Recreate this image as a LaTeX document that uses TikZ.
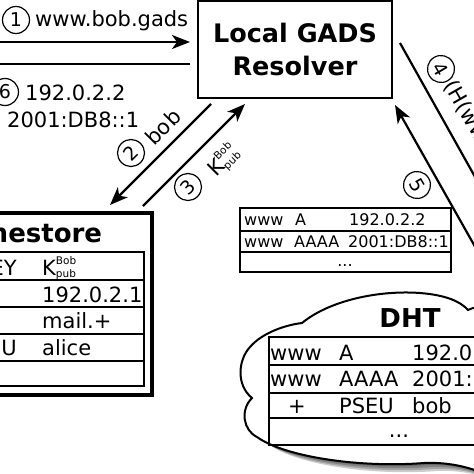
\documentclass[tikz,border=0pt]{standalone}
\usepackage{fontspec}
\setmainfont{DejaVu Sans}
\usetikzlibrary{arrows.meta}
\newcommand\kbobpub{K\rlap{\raisebox{11pt}{\fontsize{10.5}{11}\selectfont Bob}}\raisebox{-2.5pt}{\fontsize{10.5}{11}\selectfont pub}}
\def\dhtcloud{(302,323) .. controls (330,300) and (380,290) .. (420,293) .. controls (445,295) and (460,301) .. (468,310) .. controls (490,300) and (510,310) .. (520,330) -- (540,480) -- (480,472) .. controls (465,466) and (445,462) .. (424,463) .. controls (360,468) and (285,457) .. (257,437) .. controls (243,430) and (240,410) .. (252,398) .. controls (236,385) and (238,360) .. (250,347) .. controls (262,333) and (285,325) .. (302,323) -- cycle}
\begin{document}
\begin{tikzpicture}[x=1pt,y=-1pt,
  txt/.style={inner sep=0pt, font=\fontsize{21}{25}\selectfont},
  smalltxt/.style={inner sep=0pt, font=\fontsize{16}{19}\selectfont},
  titletxt/.style={inner sep=0pt, font=\bfseries\fontsize{26}{33}\selectfont},
  num/.style={circle, draw, line width=1.2pt, minimum size=27pt, inner sep=0pt, font=\fontsize{19}{21}\selectfont},
  arr/.style={line width=2.2pt, -{Stealth[length=18pt,width=14pt,inset=5pt]}},
  conn/.style={line width=2.2pt},
  tbl/.style={line width=1.3pt}]
\useasboundingbox (0,0) rectangle (474,474);
\clip (0,0) rectangle (474,474);

% Resolver
\node[draw, line width=2pt, minimum width=194pt, minimum height=97pt, align=center,
      font=\bfseries\fontsize{25.5}{33}\selectfont] (res) at (295,49.5) {Local GADS\\Resolver};

% arrow 1 and 6
\coordinate (in1) at (-20,42);
\coordinate (out6) at (-20,64);
\draw[arr] (in1) -- ([xshift=-7pt]res.west |- in1);
\draw[arr] ([xshift=-7pt]res.west |- out6) -- (out6);
\node[num] (c1) at (16,20) {1};
\node[txt, anchor=base west] (l1) at (35,26) {www.bob.gads};
\node[num] (c6) at (5,92) {6};
\node[txt, anchor=base west] (l6a) at (25,100) {192.0.2.2};
\node[txt, anchor=base west] (l6b) at (7,127) {2001:DB8::1};

% arrows 2 and 3
\coordinate (a2s) at (211,104);
\coordinate (a2e) at (110,205);
\coordinate (a3s) at (143,206);
\coordinate (a3e) at (245,104);
\draw[arr] (a2s) -- (a2e);
\draw[arr] (a3s) -- (a3e);
\node[num, rotate=45] (c2) at (131,153) {2};
\node[txt, rotate=45] (l2) at (163,127) {bob};
\node[num, rotate=45] (c3) at (188,187) {3};
\node[txt, rotate=45] (l3) at (223,161) {\kbobpub};

% arrows 4 and 5
\coordinate (a4s) at (400,43);
\coordinate (a4e) at (516,250);
\coordinate (a5s) at (530,344);
\coordinate (a5e) at (395,105);
\draw[conn] (a4s) -- (a4e);
\draw[arr] (a5s) -- (a5e);
\node[num, rotate=-60] (c4) at (441,69) {4};
\node[txt, rotate=-60, anchor=west] (l4) at (449,82) {(H(www};
\node[num, rotate=-60] (c5) at (417,185) {5};

% Namestore
\draw[line width=3.5pt] (-108,213) rectangle (152,395);
\node[titletxt, anchor=base] (nst) at (22,242) {Namestore};
\draw[tbl] (-100,252) rectangle (144,386);
\foreach \yy in {280,307,334,361} \draw[tbl] (-100,\yy) -- (144,\yy);
\node[txt, anchor=base east] (nk) at (17,275) {KEY};
\node[txt, anchor=base west] (nv) at (42,275) {\kbobpub};
\node[txt, anchor=base west] (nr1) at (42,302) {192.0.2.1};
\node[txt, anchor=base west] (nr2) at (42,328) {mail.+};
\node[txt, anchor=base east] (nr3k) at (17,355) {PSEU};
\node[txt, anchor=base west] (nr3) at (42,355) {alice};

% small table
\draw[tbl] (240,208) rectangle (451,272);
\draw[tbl] (240,231) -- (451,231);
\draw[tbl] (240,252) -- (451,252);
\node[smalltxt, anchor=base west] (s11) at (244,225) {www};
\node[smalltxt, anchor=base west] (s12) at (295,225) {A};
\node[smalltxt, anchor=base west] (s13) at (349,225) {192.0.2.2};
\node[smalltxt, anchor=base west] (s21) at (244,247) {www};
\node[smalltxt, anchor=base west] (s22) at (294,247) {AAAA};
\node[smalltxt, anchor=base west] (s23) at (348,247) {2001:DB8::1};
\node[smalltxt, anchor=base] (s3) at (345,266) {...};

% DHT cloud
\foreach \sh in {2,4,6,8} \fill[black, opacity=0.2, shift={(\sh*1.6,\sh)}] \dhtcloud;
\fill[white] \dhtcloud;
\draw[line width=2pt] \dhtcloud;
\node[titletxt, anchor=base] (dht) at (410,327) {DHT};
\draw[tbl] (269,337) rectangle (540,445);
\foreach \yy in {365,393,418} \draw[tbl] (269,\yy) -- (540,\yy);
\node[txt, anchor=base west] (d11) at (270,360) {www};
\node[txt, anchor=base west] (d12) at (339,360) {A};
\node[txt, anchor=base west] (d13) at (412,360) {192.0.2.2};
\node[txt, anchor=base west] (d21) at (270,386) {www};
\node[txt, anchor=base west] (d22) at (339,386) {AAAA};
\node[txt, anchor=base west] (d23) at (412,386) {2001:DB8::1};
\node[txt, anchor=base] (d31) at (297,413) {+};
\node[txt, anchor=base west] (d32) at (339,413) {PSEU};
\node[txt, anchor=base west] (d33) at (412,413) {bob};
\node[txt, anchor=base] (d4) at (399,437) {...};
\end{tikzpicture}
\end{document}
